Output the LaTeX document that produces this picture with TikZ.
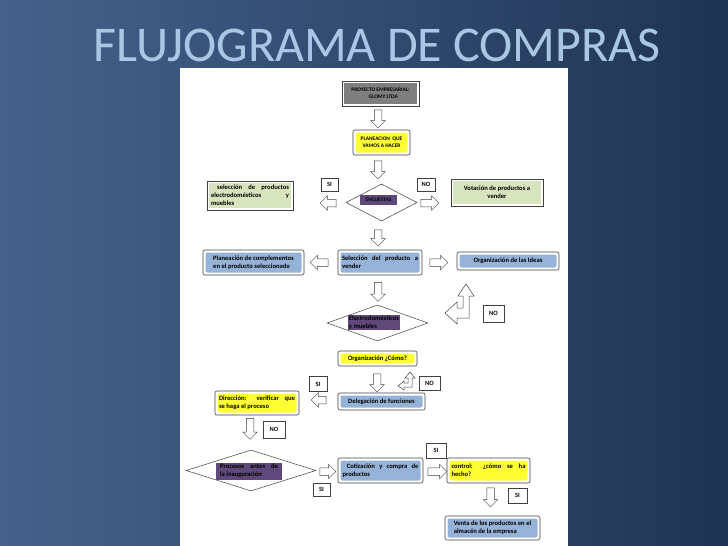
\documentclass[tikz,border=0pt]{standalone}
\usepackage{fontspec}
\setmainfont{Carlito}
\usetikzlibrary{shapes.geometric,shapes.arrows}
\definecolor{bgA}{HTML}{44628A}
\definecolor{bgB}{HTML}{1F3454}
\definecolor{ttl}{HTML}{A9C6E4}
\definecolor{ylw}{HTML}{FFFF33}
\definecolor{blu}{HTML}{95B3D7}
\definecolor{grn}{HTML}{D7E4BD}
\definecolor{prp}{HTML}{5F497A}
\definecolor{gry}{HTML}{7F7F7F}
\definecolor{edge}{HTML}{404040}
\tikzset{
  txt/.style={font=\fontsize{6.6}{8}\selectfont\bfseries, text=black, inner sep=0pt, align=left},
  rbox/.style={draw=edge, line width=0.6pt, rounded corners=2pt, fill=white, inner sep=0pt,
    path picture={\fill[#1] ([shift={(2.5pt,-2.5pt)}]path picture bounding box.north west) rectangle ([shift={(-2.5pt,2.5pt)}]path picture bounding box.south east);}},
  sbox/.style={draw=edge, line width=0.5pt, fill=white, inner sep=0pt,
    path picture={\fill[#1] ([shift={(2pt,-2pt)}]path picture bounding box.north west) rectangle ([shift={(-2pt,2pt)}]path picture bounding box.south east);}},
  lbl/.style={draw=edge, line width=0.5pt, fill=white, font=\fontsize{6.4}{7}\selectfont\bfseries, inner sep=0pt},
  dia/.style={diamond, draw=edge, line width=0.5pt, aspect=#1, inner sep=0pt},
  arr/.style={single arrow, draw=edge, line width=0.5pt, fill=white, inner xsep=0pt, inner ysep=3.5pt,
    single arrow head extend=3.5pt, minimum height=#1},
}
\newcommand{\jl}[2]{\makebox[#1][s]{#2}}
\begin{document}
\begin{tikzpicture}[x=1pt,y=-1pt]
\shade[left color=bgA, right color=bgB] (0,0) rectangle (728,546);
\useasboundingbox (0,0) rectangle (728,546);
\node[font=\fontsize{50}{50}\selectfont, text=ttl, inner sep=0pt] (title) at (377,45) {FLUJOGRAMA DE COMPRAS};
\fill[white] (180,68) rectangle (568,546);

% boxes
\node[sbox=gry, minimum width=77pt, minimum height=25pt] (p) at (380.5,93.5) {};
\node[txt, align=center, font=\fontsize{5.4}{6.6}\selectfont\bfseries] at (p) {PROYECTO EMPRESARIAL:\\ \quad GLOMY LTDA};
\node[rbox=ylw, minimum width=57pt, minimum height=25pt] (plan) at (381.5,142.5) {};
\node[txt, align=center, font=\fontsize{5.4}{6.6}\selectfont\bfseries] at (plan) {PLANEACION \ QUE\\ VAMOS A HACER};
\node[dia=1.9, minimum width=71pt, minimum height=37pt] (enc) at (381.5,202.5) {};
\fill[prp] (360,195) rectangle (397,205);
\node[txt, font=\fontsize{5.4}{6.6}\selectfont\bfseries] at (378.5,200) {ENCUESTAS};
\node[sbox=grn, minimum width=86pt, minimum height=29pt] (sel) at (250,195.5) {};
\node[txt] at (sel) {\jl{78pt}{ selección de productos}\\ \jl{78pt}{electrodomésticos y}\\ muebles};
\node[sbox=grn, minimum width=92pt, minimum height=27pt] (vot) at (497,192.5) {};
\node[txt, align=center] at (vot) {Votación de productos a\\ vender};
\node[lbl, minimum width=17pt, minimum height=13pt] (si1) at (329.5,184.5) {SI};
\node[lbl, minimum width=18pt, minimum height=13pt] (no1) at (426,184.5) {NO};

\node[rbox=blu, minimum width=84pt, minimum height=25pt] (selp) at (380,262.5) {};
\node[txt] at (selp) {\jl{76pt}{Selección del producto a}\\ vender};
\node[rbox=blu, minimum width=101pt, minimum height=25pt] (plac) at (253.5,262.5) {};
\node[txt] at (plac) {Planeación de complementos\\ en el producto seleccionado};
\node[rbox=blu, minimum width=102pt, minimum height=18pt] (org) at (508,261) {};
\node[txt] at (org) {Organización de las Ideas};
\node[dia=2.8, minimum width=101pt, minimum height=36pt] (elec) at (377.5,323) {};
\fill[prp] (348,315) rectangle (400,330);
\node[txt] at (374,322.5) {Electrodomésticos\\ y muebles};
\node[lbl, minimum width=21pt, minimum height=17pt] (no2) at (493.5,313.5) {NO};
\filldraw[draw=edge, line width=0.5pt, fill=white]
  (445,313) -- (457,302) -- (457,308) -- (463,308) -- (463,296) -- (458,296) -- (466,284)
  -- (474,296) -- (469,296) -- (469,318) -- (457,318) -- (457,324) -- cycle;

\node[rbox=ylw, minimum width=79pt, minimum height=15pt] (orgc) at (377.5,358.5) {};
\node[txt] at (orgc) {Organización ¿Cómo?};
\node[lbl, minimum width=18pt, minimum height=15pt] (si2) at (318,384) {SI};
\node[lbl, minimum width=21pt, minimum height=14pt] (no3) at (429.5,383) {NO};
\filldraw[draw=edge, line width=0.5pt, fill=white]
  (398,386) -- (404,381) -- (404,383) -- (408,383) -- (408,378) -- (405,378) -- (410,372)
  -- (415,378) -- (412,378) -- (412,387) -- (404,387) -- (404,390) -- cycle;

\node[rbox=blu, minimum width=87pt, minimum height=17pt] (del) at (381.5,401.5) {};
\node[txt] at (del) {Delegación de funciones};
\node[rbox=ylw, minimum width=84pt, minimum height=24pt] (dir) at (257,403) {};
\node[txt] at (dir) {\jl{76pt}{Dirección: verificar que}\\ se haga el proceso};
\node[lbl, minimum width=22pt, minimum height=17pt] (no4) at (274,429.5) {NO};
\node[dia=3.2, minimum width=130pt, minimum height=41pt] (proc) at (251,470.5) {};
\fill[prp] (216,463) rectangle (282,480);
\node[txt] at (249,471) {\jl{58pt}{Procesos antes de}\\ la inauguración};
\node[lbl, minimum width=17pt, minimum height=13pt] (si3) at (321.5,489.5) {SI};
\node[rbox=blu, minimum width=85pt, minimum height=25pt] (cot) at (380.5,470.5) {};
\node[txt] at (cot) {\jl{76pt}{ Cotización y compra de}\\ productos};
\node[lbl, minimum width=20pt, minimum height=15pt] (si4) at (436,450.5) {SI};
\node[rbox=ylw, minimum width=83pt, minimum height=25pt] (ctl) at (488.5,470.5) {};
\node[txt] at (ctl) {\jl{74pt}{control: ¿cómo se ha}\\ hecho?};
\node[lbl, minimum width=19pt, minimum height=15pt] (si5) at (517.5,495.5) {SI};
\node[rbox=blu, minimum width=95pt, minimum height=24pt] (vent) at (492.5,528) {};
\node[txt] at (vent) {Venta de los productos en el\\ almacén de la empresa};

% block arrows
\node[arr=18pt, rotate=-90] (a1) at (378,117) {};
\node[arr=18pt, rotate=-90] (a2) at (378,168) {};
\node[arr=16pt, rotate=180] (a3) at (330,203) {};
\node[arr=18pt] (a4) at (428,203) {};
\node[arr=16pt, rotate=-90] (a5) at (378,236) {};
\node[arr=18pt, rotate=180] (a6) at (321,262.5) {};
\node[arr=18pt] (a7) at (437,262.5) {};
\node[arr=19pt, rotate=-90] (a8) at (378,290) {};
\node[arr=18pt, rotate=-90] (a9) at (377,381) {};
\node[arr=15pt, rotate=180] (a10) at (320.5,400) {};
\node[arr=21pt, rotate=-90] (a11) at (250,427) {};
\node[arr=16pt] (a12) at (326,471.5) {};
\node[arr=19pt] (a13) at (435.5,471.5) {};
\node[arr=19pt, rotate=-90] (a14) at (490.5,495.5) {};
\end{tikzpicture}
\end{document}
